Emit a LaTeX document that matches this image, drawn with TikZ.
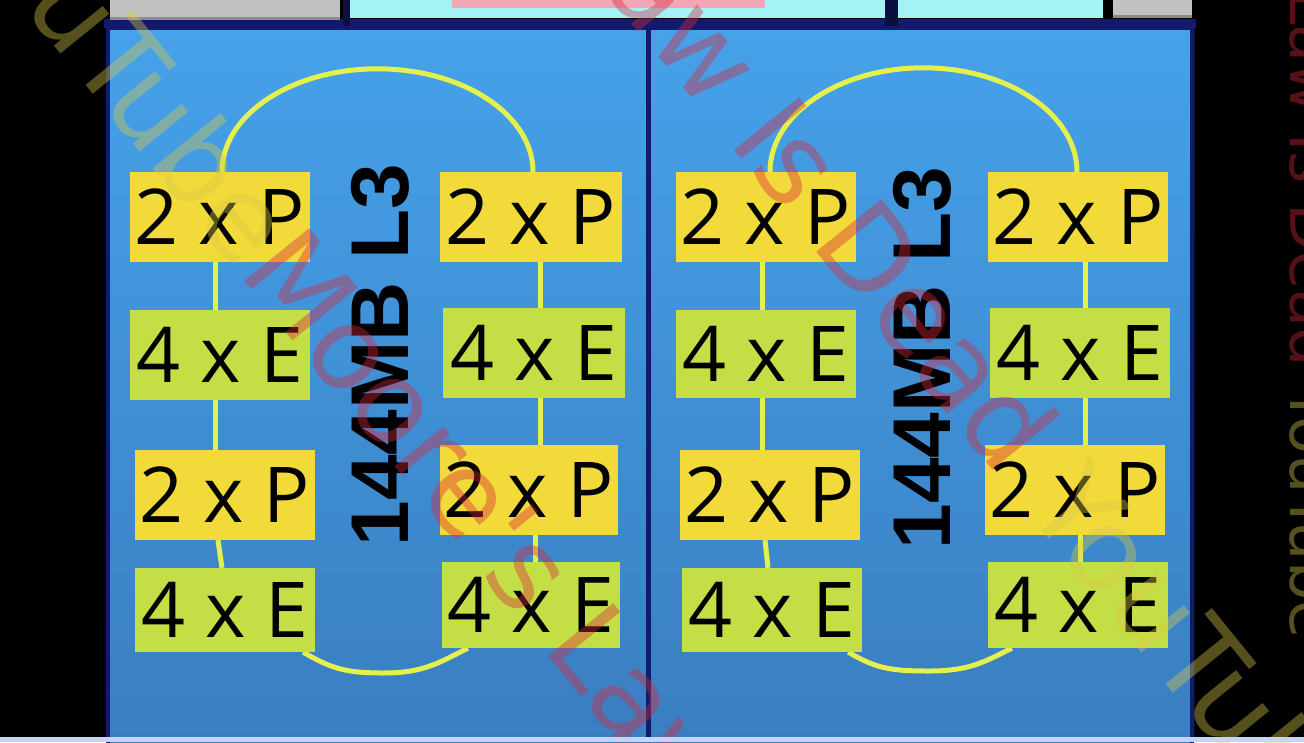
\documentclass[tikz,border=0pt]{standalone}
\usepackage{fontspec}
\setmainfont{Open Sans}
\newfontfamily\lthreefont{Liberation Sans}
\newfontfamily\wmfont{DejaVu Sans}
\usetikzlibrary{calc}
\definecolor{panelTop}{HTML}{46A2EA}
\definecolor{panelBot}{HTML}{3A7EC0}
\definecolor{navy}{HTML}{121A6E}
\definecolor{darknavy}{HTML}{0A0F40}
\definecolor{pcore}{HTML}{F2DA3A}
\definecolor{ecore}{HTML}{C4DF45}
\definecolor{linkc}{HTML}{E4F04C}
\definecolor{grayone}{HTML}{C2C2C2}
\definecolor{graytwo}{HTML}{8C8C8C}
\definecolor{cyanone}{HTML}{A2F2F6}
\definecolor{pinkone}{HTML}{F3A6B6}
\definecolor{stripc}{HTML}{C6D4F4}
\definecolor{wmr}{HTML}{D8283E}
\definecolor{wmy}{HTML}{D8C848}
\tikzset{
  core/.style={minimum width=180pt, minimum height=90pt, inner sep=0pt,
    font=\fontsize{77}{77}\selectfont, text=black},
  pc/.style={core, fill=pcore},
  ec/.style={core, fill=ecore},
  cache/.style={font=\lthreefont\bfseries\fontsize{82}{82}\selectfont, text=black, rotate=90, inner sep=0pt},
  link/.style={draw=linkc, line width=5pt},
  wm/.style={font=\wmfont\fontsize{115}{115}\selectfont, text opacity=0.4, inner sep=0pt},
}
\begin{document}
\begin{tikzpicture}[x=1pt,y=-1pt]
\useasboundingbox (0,0) rectangle (1304,742);
\fill[black] (0,0) rectangle (1304,742);
\begin{scope}
\clip (0,0) rectangle (1304,742);
% top strip
\fill[navy] (104,19) rectangle (1196,28);
\fill[darknavy] (343,0) rectangle (350,26);
\fill[darknavy] (885,0) rectangle (898,26);
\fill[grayone] (110,0) rectangle (340,17);
\fill[graytwo] (110,17) rectangle (340,20);
\fill[cyanone] (350,0) rectangle (885,18);
\fill[pinkone] (452,0) rectangle (765,8);
\fill[cyanone] (898,0) rectangle (1103,18);
\fill[grayone] (1113,0) rectangle (1192,15);
\fill[graytwo] (1113,15) rectangle (1192,18);
% panels
\shade[top color=panelTop, bottom color=panelBot] (106,26) rectangle (1194,742);
\draw[navy, line width=4pt] (108,28) rectangle (1192,752);
\draw[navy, line width=5pt] (648,28) -- (648,742);

% left panel cores
\node[pc] (aL1) at (220,217) {2 x P};
\node[ec] (aL2) at (220,355) {4 x E};
\node[pc] (aL3) at (225,495) {2 x P};
\node[ec, minimum height=84pt] (aL4) at (225,610) {4 x E};
\node[pc, minimum width=182pt] (aR1) at (531,217) {2 x P};
\node[ec, minimum width=182pt] (aR2) at (534,353) {4 x E};
\node[pc, minimum width=178pt] (aR3) at (529,490) {2 x P};
\node[ec, minimum width=178pt, minimum height=86pt] (aR4) at (531,605) {4 x E};
\node[cache] (aC) at (380,355) {144MB L3};

% right panel cores
\node[pc] (bL1) at (766,217) {2 x P};
\node[ec, minimum height=88pt] (bL2) at (766,354) {4 x E};
\node[pc] (bL3) at (770,495) {2 x P};
\node[ec, minimum height=84pt] (bL4) at (772,610) {4 x E};
\node[pc] (bR1) at (1078,217) {2 x P};
\node[ec] (bR2) at (1080,353) {4 x E};
\node[pc] (bR3) at (1075,490) {2 x P};
\node[ec, minimum height=86pt] (bR4) at (1078,605) {4 x E};
\node[cache] (bC) at (922,358) {144MB L3};

% ring connectors, left panel
\draw[link] ([xshift=2pt]aL1.north) arc[start angle=180, end angle=360, x radius=155.5, y radius=103];
\draw[link] ([xshift=-5pt]aL1.south) -- ([xshift=-5pt]aL2.north);
\draw[link] ([xshift=-5pt]aL2.south) -- ([xshift=-10pt]aL3.north);
\draw[link] ([xshift=-7pt]aL3.south) -- ([xshift=-3pt]aL4.north);
\draw[link] ([xshift=9pt]aR1.south) -- ([xshift=6pt]aR2.north);
\draw[link] ([xshift=6pt]aR2.south) -- ([xshift=11pt]aR3.north);
\draw[link] ([xshift=6pt]aR3.south) -- ([xshift=4pt]aR4.north);
\coordinate (aBot) at (384,673);
\draw[link] ([xshift=-12pt]aL4.south east) .. controls +(28,16) and +(-40,0) .. (aBot)
  .. controls +(40,0) and +(-28,14) .. ([xshift=26pt]aR4.south west);

% ring connectors, right panel
\draw[link] ([xshift=4pt]bL1.north) arc[start angle=180, end angle=360, x radius=153.5, y radius=104];
\draw[link] ([xshift=-4pt]bL1.south) -- ([xshift=-4pt]bL2.north);
\draw[link] ([xshift=-4pt]bL2.south) -- ([xshift=-8pt]bL3.north);
\draw[link] ([xshift=-5pt]bL3.south) -- ([xshift=-4pt]bL4.north);
\draw[link] ([xshift=7pt]bR1.south) -- ([xshift=5pt]bR2.north);
\draw[link] ([xshift=5pt]bR2.south) -- ([xshift=10pt]bR3.north);
\draw[link] ([xshift=5pt]bR3.south) -- ([xshift=2pt]bR4.north);
\coordinate (bBot) at (929,671);
\draw[link] ([xshift=-14pt]bL4.south east) .. controls +(28,16) and +(-40,0) .. (bBot)
  .. controls +(40,0) and +(-28,14) .. ([xshift=24pt]bR4.south west);

% redraw cores over connectors
\foreach \n/\s/\t/\w/\h/\x/\y in {aL1/pc/2 x P/180/90/220/217, aL2/ec/4 x E/180/90/220/355,
  aL3/pc/2 x P/180/90/225/495, aL4/ec/4 x E/180/84/225/610,
  aR1/pc/2 x P/182/90/531/217, aR2/ec/4 x E/182/90/534/353,
  aR3/pc/2 x P/178/90/529/490, aR4/ec/4 x E/178/86/531/605,
  bL1/pc/2 x P/180/90/766/217, bL2/ec/4 x E/180/88/766/354,
  bL3/pc/2 x P/180/90/770/495, bL4/ec/4 x E/180/84/772/610,
  bR1/pc/2 x P/180/90/1078/217, bR2/ec/4 x E/180/90/1080/353,
  bR3/pc/2 x P/180/90/1075/490, bR4/ec/4 x E/180/86/1078/605}
  {\node[\s, minimum width=\w pt, minimum height=\h pt] (\n-top) at (\x,\y) {\t};}

% watermark
\node[wm, text=wmr, rotate=-51, anchor=base west] (w1) at (237,272) {Moore's Law Is Dead};
\node[wm, text=wmy, rotate=-51, anchor=base east] (w1y) at (w1.base west) {YouTube\ };
\node[wm, text=wmr, rotate=-51, anchor=base west] (w2) at (256,-440) {Moore's Law Is Dead};
\node[wm, text=wmy, rotate=-51, anchor=base west] (w2y) at (w2.base east) {\ YouTube};
\node[wm, font=\wmfont\fontsize{62}{62}\selectfont, rotate=-90, anchor=base west] (w3) at (1290,-10)
  {\textcolor{wmr}{Law Is Dead }\textcolor{wmy}{YouTube}};

\fill[stripc] (0,737) rectangle (1304,742);
\end{scope}
\end{tikzpicture}
\end{document}
